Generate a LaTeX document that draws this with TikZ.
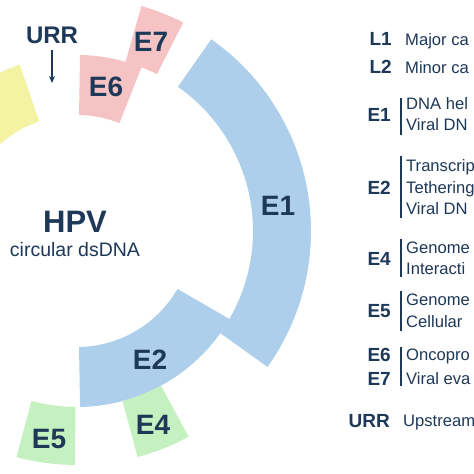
\documentclass[tikz,border=0pt]{standalone}
\usepackage{fontspec}
\setmainfont{Liberation Sans}
\usetikzlibrary{arrows.meta}
\definecolor{gblue}{RGB}{174,207,235}
\definecolor{gpink}{RGB}{245,195,195}
\definecolor{ggreen}{RGB}{197,240,191}
\definecolor{gyellow}{RGB}{243,243,163}
\definecolor{navy}{RGB}{30,56,88}
\newcommand\genearc[5]{\fill[#5] (#1:#3) arc[start angle=#1,end angle=#2,radius=#3] -- (#2:#4) arc[start angle=#2,end angle=#1,radius=#4] -- cycle;}
\begin{document}
\begin{tikzpicture}[x=1bp,y=1bp,
  big/.style={font=\bfseries\fontsize{28bp}{28bp}\selectfont, text=navy, inner sep=0},
  lab/.style={font=\bfseries\fontsize{19bp}{19bp}\selectfont, text=navy, anchor=base east, inner sep=0},
  desc/.style={font=\fontsize{16.6bp}{16.6bp}\selectfont, text=navy, anchor=base west, inner sep=0},
  bar/.style={draw=navy, line width=1.4bp}]
\useasboundingbox (0,0) rectangle (474,474);
\begin{scope}
\clip (0,0) rectangle (474,474);
\fill[white] (0,0) rectangle (474,474);
\begin{scope}[shift={(77,243)}]
\genearc{55}{-35.5}{176}{234}{gblue}
\genearc{-89}{-30}{116}{176}{gblue}
\genearc{-75}{-61.5}{176}{234}{ggreen}
\genearc{-105}{-90.5}{176}{234}{ggreen}
\genearc{68.5}{89}{116}{176}{gpink}
\genearc{63}{74}{176}{234}{gpink}
\genearc{109}{175}{116}{176}{gyellow}
\end{scope}
\end{scope}
% gene labels
\node[big] (lE1) at (278,268) {E1};
\node[big] (lE2) at (150,114) {E2};
\node[big] (lE4) at (153,49) {E4};
\node[big] (lE5) at (49,35) {E5};
\node[big] (lE6) at (106,387) {E6};
\node[big] (lE7) at (151,432) {E7};
\node[font=\bfseries\fontsize{24bp}{24bp}\selectfont, text=navy, inner sep=0] (urr) at (52,439) {URR};
\coordinate (arrs) at (52,424);
\coordinate (arre) at (52,391);
\draw[navy, line width=1.3bp, -{Stealth[length=7bp,width=6bp]}] (arrs) -- (arre);
\node[font=\bfseries\fontsize{31bp}{31bp}\selectfont, text=navy, inner sep=0] (hpv) at (75,252) {HPV};
\node[font=\fontsize{19.5bp}{19.5bp}\selectfont, text=navy, inner sep=0] (circ) at (75,224) {circular dsDNA};
% legend
\node[lab] (kL1) at (392,428) {L1};
\node[desc] (dL1) at (405,428) {Major ca};
\node[lab] (kL2) at (392,400) {L2};
\node[desc] (dL2) at (405,400) {Minor ca};
\node[lab] (kE1) at (391,352) {E1};
\coordinate (b1t) at (401,376); \coordinate (b1b) at (401,339);
\draw[bar] (b1t) -- (b1b);
\node[desc] (dE1a) at (406,364) {DNA hel};
\node[desc] (dE1b) at (406,343) {Viral DN};
\node[lab] (kE2) at (391,279) {E2};
\coordinate (b2t) at (401,318); \coordinate (b2b) at (401,256);
\draw[bar] (b2t) -- (b2b);
\node[desc] (dE2a) at (406,302) {Transcrip};
\node[desc] (dE2b) at (406,280) {Tethering};
\node[desc] (dE2c) at (406,259) {Viral DN};
\node[lab] (kE4) at (391,208) {E4};
\coordinate (b4t) at (401,235); \coordinate (b4b) at (401,197);
\draw[bar] (b4t) -- (b4b);
\node[desc] (dE4a) at (406,220) {Genome};
\node[desc] (dE4b) at (406,199) {Interacti};
\node[lab] (kE5) at (391,156) {E5};
\coordinate (b5t) at (401,183); \coordinate (b5b) at (401,143);
\draw[bar] (b5t) -- (b5b);
\node[desc] (dE5a) at (406,168) {Genome};
\node[desc] (dE5b) at (406,146) {Cellular};
\node[lab] (kE6) at (391,112) {E6};
\node[lab] (kE7) at (391,88) {E7};
\coordinate (b6t) at (401,127); \coordinate (b6b) at (401,88);
\draw[bar] (b6t) -- (b6b);
\node[desc] (dE6) at (406,113) {Oncopro};
\node[desc] (dE7) at (406,89) {Viral eva};
\node[lab] (kURR) at (390,46) {URR};
\node[desc] (dURR) at (403,47) {Upstream};
\end{tikzpicture}
\end{document}
